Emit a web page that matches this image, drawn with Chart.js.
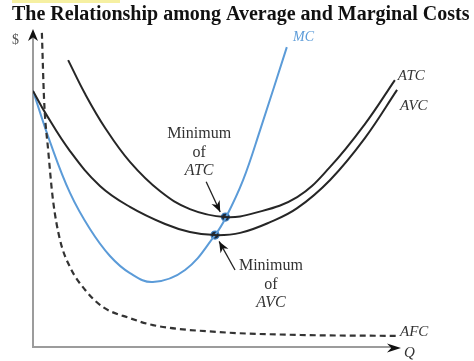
<!DOCTYPE html>
<html>
<head>
<meta charset="utf-8">
<script src="https://cdn.jsdelivr.net/npm/chart.js@4.4.1/dist/chart.umd.min.js"></script>
<style>
html,body{margin:0;padding:0;background:#fff;}
#wrap{width:474px;height:361px;position:relative;}
</style>
</head>
<body>
<div id="wrap"><canvas id="c" width="474" height="361"></canvas></div>
<script>
// ---- data (Q on x, $ on y; arbitrary units) ----
const mcQ   = [0, 4.6, 10.0, 15.4, 20.8, 26.2, 32.4, 41.1, 49.2, 52.2, 56.8, 61.4, 68.6];
const mcCost= [80.8, 64.7, 48.6, 37.2, 28.7, 23.3, 20.5, 24.3, 35.3, 41.0, 52.7, 68.5, 94.6];

const atcQ   = [9.5, 14.1, 19.5, 26.2, 34.3, 42.4, 51.9, 60.0, 71.4, 80.3, 89.7, 97.8];
const atcCost= [90.5, 79.8, 69.1, 58.4, 49.2, 43.5, 41.0, 42.3, 47.3, 56.8, 70.3, 84.2];

const avcQ   = [0, 3.2, 10.0, 18.1, 26.2, 35.7, 42.4, 49.2, 56.0, 64.1, 71.4, 80.3, 89.7, 98.4];
const avcCost= [80.8, 74.1, 61.8, 50.8, 44.2, 38.8, 36.3, 35.3, 36.0, 39.4, 43.8, 52.7, 65.9, 81.1];

const afcQ   = [2.4, 3.0, 4.1, 5.4, 7.3, 10.0, 14.1, 18.9, 26.2, 32.4, 50.5, 72.2, 98.6];
const afcCost= [99.1, 77.9, 62.1, 46.4, 33.8, 25.2, 18.0, 12.6, 9.1, 6.9, 4.7, 3.8, 3.5];

const minATC = [52.0, 41.0];
const minAVC = [49.2, 35.3];

const curveNames = ["MC", "ATC", "AVC", "AFC"];
const title = "The Relationship among Average and Marginal Costs";
const axisLabels = ["$", "Q"];
const noteATC = ["Minimum", "of", "ATC"];
const noteAVC = ["Minimum", "of", "AVC"];

const pts = (xs, ys) => xs.map((x, i) => ({x, y: ys[i]}));

const BLUE = "#5b9bd8";
const DARK = "#262626";
const SERIF = '"Liberation Serif","DejaVu Serif",serif';

function arrowHead(ctx, x1, y1, x2, y2, len, half) {
  const a = Math.atan2(y2 - y1, x2 - x1);
  ctx.beginPath();
  ctx.moveTo(x2, y2);
  ctx.lineTo(x2 - len*Math.cos(a) + half*Math.sin(a), y2 - len*Math.sin(a) - half*Math.cos(a));
  ctx.lineTo(x2 - len*0.7*Math.cos(a), y2 - len*0.7*Math.sin(a));
  ctx.lineTo(x2 - len*Math.cos(a) - half*Math.sin(a), y2 - len*Math.sin(a) + half*Math.cos(a));
  ctx.closePath();
  ctx.fill();
}

const decor = {
  id: "decor",
  beforeDraw(chart) {
    const ctx = chart.ctx;
    ctx.save();
    ctx.fillStyle = "#fff";
    ctx.fillRect(0, 0, chart.width, chart.height);
    ctx.fillStyle = "#f6f0a2";
    ctx.fillRect(12, 0, 108, 3);
    ctx.restore();
  },
  beforeDatasetsDraw(chart) {
    const ctx = chart.ctx, ca = chart.chartArea;
    ctx.save();
    ctx.strokeStyle = "#9c9c9c";
    ctx.lineWidth = 2;
    ctx.beginPath();
    ctx.moveTo(ca.left, ca.top + 8);
    ctx.lineTo(ca.left, ca.bottom);
    ctx.lineTo(ca.right - 10, ca.bottom);
    ctx.stroke();
    ctx.fillStyle = "#111";
    arrowHead(ctx, ca.left, ca.bottom, ca.left, ca.top - 1, 12, 5);
    arrowHead(ctx, ca.left, ca.bottom, ca.right - 2, ca.bottom + 1, 14, 4.5);
    ctx.restore();
  },
  afterDatasetsDraw(chart) {
    const ctx = chart.ctx;
    const X = v => chart.scales.x.getPixelForValue(v);
    const Y = v => chart.scales.y.getPixelForValue(v);
    ctx.save();
    // title
    ctx.fillStyle = "#111";
    ctx.font = "bold 20px " + SERIF;
    ctx.textBaseline = "alphabetic";
    ctx.textAlign = "left";
    ctx.fillText(title, 12, 20);
    // $ label
    ctx.fillStyle = "#555";
    ctx.font = "14px " + SERIF;
    ctx.textBaseline = "middle";
    ctx.fillText(axisLabels[0], 12, 40);
    // curve labels
    ctx.font = "italic 14px " + SERIF;
    ctx.fillStyle = BLUE;
    ctx.fillText(curveNames[0], X(70.3), Y(97.6));
    ctx.fillStyle = "#333";
    ctx.font = "italic 15px " + SERIF;
    ctx.fillText(curveNames[1], X(98.6), Y(85.6));
    ctx.fillText(curveNames[2], X(99.2), Y(76.0));
    ctx.fillText(curveNames[3], X(99.2), Y(4.8));
    ctx.fillText(axisLabels[1], X(100.3), Y(-2.0));
    // notes
    ctx.textAlign = "center";
    const ny1 = [67.2, 61.3, 55.6], ny2 = [25.6, 19.6, 14.0];
    noteATC.forEach((t, i) => {
      ctx.font = (i === 2 ? "italic " : "") + "16px " + SERIF;
      ctx.fillText(t, X(44.9), Y(ny1[i]));
    });
    noteAVC.forEach((t, i) => {
      ctx.font = (i === 2 ? "italic " : "") + "16px " + SERIF;
      ctx.fillText(t, X(64.3), Y(ny2[i]));
    });
    // arrows to minima
    ctx.strokeStyle = "#222"; ctx.fillStyle = "#111"; ctx.lineWidth = 1.3;
    const arrows = [[46.8, 52.1, 50.6, 42.6], [54.6, 24.3, 50.3, 33.3]];
    arrows.forEach(a => {
      const x1 = X(a[0]), y1 = Y(a[1]), x2 = X(a[2]), y2 = Y(a[3]);
      ctx.beginPath(); ctx.moveTo(x1, y1); ctx.lineTo(x2, y2); ctx.stroke();
      arrowHead(ctx, x1, y1, x2, y2, 11, 4.5);
    });
    ctx.restore();
  }
};

const lineStyle = { showLine: true, pointRadius: 0, borderWidth: 2, tension: 0.4 };

new Chart(document.getElementById("c"), {
  type: "scatter",
  data: {
    datasets: [
      { label: "AFC", data: pts(afcQ, afcCost), showLine: true, pointRadius: 0, borderColor: "#333", borderWidth: 2.2, borderDash: [6, 4], cubicInterpolationMode: "monotone" },
      Object.assign({}, lineStyle, { label: "AVC", data: pts(avcQ, avcCost), borderColor: DARK }),
      Object.assign({}, lineStyle, { label: "ATC", data: pts(atcQ, atcCost), borderColor: DARK }),
      Object.assign({}, lineStyle, { label: "MC", data: pts(mcQ, mcCost), borderColor: BLUE }),
      { label: "minima", data: [{x: minATC[0], y: minATC[1]}, {x: minAVC[0], y: minAVC[1]}], showLine: false, pointRadius: 4, pointBackgroundColor: "#1b2a3d", pointBorderColor: "#3d7fc0", pointBorderWidth: 1.2 }
    ]
  },
  options: {
    responsive: false,
    animation: false,
    layout: { padding: { left: 33, right: 71, top: 30, bottom: 14 } },
    scales: {
      x: { type: "linear", min: 0, max: 100, display: false },
      y: { type: "linear", min: 0, max: 100, display: false }
    },
    plugins: { legend: { display: false }, tooltip: { enabled: false } },
    elements: { line: { borderCapStyle: "butt" } }
  },
  plugins: [decor]
});
</script>
</body>
</html>
